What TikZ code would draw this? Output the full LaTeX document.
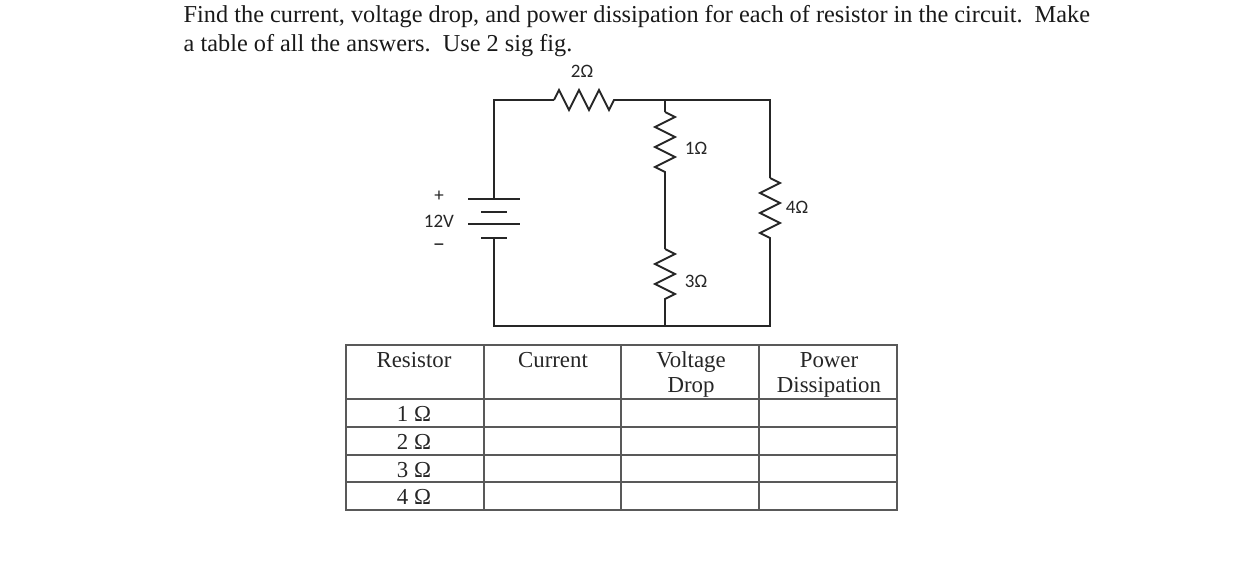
\documentclass[tikz,border=0pt]{standalone}
\usepackage{fontspec}
\setmainfont{Liberation Serif}
\newfontfamily\carlito{Carlito}
\usetikzlibrary{decorations.pathmorphing}
\tikzstyle{wire}=[line width=0.55pt, black!85]
\tikzstyle{plate}=[line width=0.6pt, black!85]
\tikzstyle{resE}=[wire, decorate, decoration={zigzag, segment length=0.2cm, amplitude=0.1cm}]
\tikzstyle{grid}=[line width=0.35pt, black!65]
\tikzstyle{circLabel}=[inner sep=0pt, font=\carlito\fontsize{5.4}{6}\selectfont, black!85]
\tikzstyle{question}=[inner sep=0pt, anchor=base west, font=\fontsize{6.91}{8}\selectfont, black!90]
\tikzstyle{cell}=[inner sep=0pt, anchor=base, font=\fontsize{6.5}{7}\selectfont, black!85]

\begin{document}
\begin{tikzpicture}[x=0.01cm, y=-0.01cm]
    \useasboundingbox (0,0) rectangle (1242,588);

    %%%%%  Enunciado  %%%%%
    \node (Q1) [question] at (183,23) {Find the current, voltage drop, and power dissipation for each of resistor in the circuit.\ \ Make};
    \node (Q2) [question] at (183,52) {a table of all the answers.\ \ Use 2 sig fig.};

    %%%%%  Puntos del circuito  %%%%%
    \coordinate (TL) at (494,100);
    \coordinate (TM) at (665,100);
    \coordinate (TR) at (770,100);
    \coordinate (BL) at (494,326);
    \coordinate (BM) at (665,326);
    \coordinate (BR) at (770,326);
    \coordinate (R2a) at (554,100);
    \coordinate (R2b) at (615,100);
    \coordinate (R1a) at (665,112);
    \coordinate (R1b) at (665,174);
    \coordinate (R3a) at (665,249);
    \coordinate (R3b) at (665,308);
    \coordinate (R4a) at (770,178);
    \coordinate (R4b) at (770,241);
    \coordinate (Bat1) at (494,199);
    \coordinate (Bat4) at (494,238);

    %%%%%  Cables  %%%%%
    \draw [wire] (Bat1) -- (TL) -- (R2a);
    \draw [wire] (R2b) -- (TR) -- (R4a);
    \draw [wire] (TM) -- (R1a);
    \draw [wire] (R1b) -- (R3a);
    \draw [wire] (R3b) -- (BM);
    \draw [wire] (R4b) -- (BR) -- (BL) -- (Bat4);

    %%%%%  Resistencias  %%%%%
    \draw [resE] (R2a) -- (R2b);
    \draw [resE] (R1a) -- (R1b);
    \draw [resE] (R3a) -- (R3b);
    \draw [resE] (R4a) -- (R4b);

    %%%%%  Bateria  %%%%%
    \draw [plate] (468,199) -- (520,199);
    \draw [plate] (481,212) -- (507,212);
    \draw [plate] (468,224) -- (520,224);
    \draw [plate] (481,238) -- (507,238);

    %%%%%  Etiquetas  %%%%%
    \node (L2) [circLabel] at (582,71) {2Ω};
    \node (L1) [circLabel] at (696,148) {1Ω};
    \node (L3) [circLabel] at (696,281) {3Ω};
    \node (L4) [circLabel] at (797,207) {4Ω};
    \node (V) [circLabel] at (439,221) {12V};
    \node (Vp) [circLabel] at (439,196) {+};
    \node (Vm) [circLabel, font=\carlito\fontsize{7}{8}\selectfont] at (439,248) {\textendash};

    %%%%%  Tabla  %%%%%
    \draw [grid] (346,345) rectangle (897,510);
    \foreach \x in {484,621,759}
      \draw [grid] (\x,345) -- (\x,510);
    \foreach \y in {399,427,455,482}
      \draw [grid] (346,\y) -- (897,\y);

    \node (H1) [cell] at (414,367) {Resistor};
    \node (H2) [cell] at (553,367) {Current};
    \node (H3) [cell] at (691,367) {Voltage};
    \node (H3b) [cell] at (691,393) {Drop};
    \node (H4) [cell] at (829,367) {Power};
    \node (H4b) [cell] at (829,393) {Dissipation};
    \node (Ra) [cell] at (414,421) {1 Ω};
    \node (Rb) [cell] at (414,449) {2 Ω};
    \node (Rc) [cell] at (414,477) {3 Ω};
    \node (Rd) [cell] at (414,504) {4 Ω};
\end{tikzpicture}
\end{document}
